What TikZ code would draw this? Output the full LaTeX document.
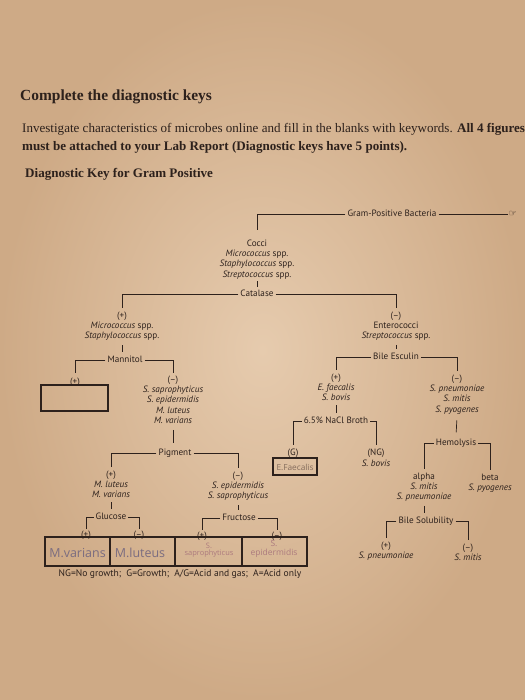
\documentclass[tikz,border=0pt]{standalone}
\usepackage{fontspec}
\setmainfont{Liberation Serif}
\newfontfamily\dsans{PT Sans}
\newfontfamily\handf{Open Sans}
\newfontfamily\symf{DejaVu Sans}
\definecolor{paper}{RGB}{206,170,134}
\definecolor{paperlight}{RGB}{230,203,174}
\definecolor{ink}{RGB}{45,33,28}
\definecolor{pencil}{RGB}{122,108,128}
\definecolor{pinkpen}{RGB}{172,122,126}
\definecolor{greypen}{RGB}{132,108,92}
\begin{document}
\begin{tikzpicture}[x=1bp,y=-1bp,
  lbl/.style={font=\dsans\fontsize{9.2}{10.4}\selectfont, text=ink, align=center, inner sep=2pt, anchor=north},
  test/.style={font=\dsans\fontsize{9.2}{10}\selectfont, text=ink, inner sep=2pt, text height=6.8pt, text depth=2.2pt},
  br/.style={draw=ink, line width=0.7bp},
  ansbox/.style={draw=ink, line width=1.4bp, inner sep=0pt},
  hw/.style={font=\handf\fontsize{12.5}{12.5}\selectfont, text=pencil},
  hws/.style={font=\handf\fontsize{7.5}{7.5}\selectfont, text=pinkpen, align=center}]
\useasboundingbox (0,0) rectangle (525,700);
\shade[inner color=paperlight, outer color=paper] (0,0) rectangle (525,700);

% header text
\node[anchor=base west, inner sep=0, font=\bfseries\fontsize{15.5}{15.5}\selectfont, text=ink] (title) at (20,101) {Complete the diagnostic keys};
\node[anchor=base west, inner sep=0, font=\fontsize{13.1}{13.1}\selectfont, text=ink] (intro) at (22,133) {Investigate characteristics of microbes online and fill in the blanks with keywords. \textbf{All 4 figures}};
\node[anchor=base west, inner sep=0, font=\bfseries\fontsize{13.1}{13.1}\selectfont, text=ink] (intro2) at (22,150) {must be attached to your Lab Report (Diagnostic keys have 5 points).};
\node[anchor=base west, inner sep=0, font=\bfseries\fontsize{13.1}{13.1}\selectfont, text=ink] (sub) at (25,177) {Diagnostic Key for Gram Positive};

% top
\node[test] (gram) at (392,214) {Gram-Positive Bacteria};
\node[font=\symf\fontsize{9}{9}\selectfont, text=ink, inner sep=1pt] (pointer) at (513,214) {☞};
\node[lbl] (cocci) at (257,237.5) {Cocci\\\textit{Micrococcus} spp.\\\textit{Staphylococcus} spp.\\\textit{Streptococcus} spp.};
\node[test] (catalase) at (257,294) {Catalase};
\node[lbl] (micro) at (122,309.5) {(+)\\\textit{Micrococcus} spp.\\\textit{Staphylococcus} spp.};
\node[lbl] (entero) at (396,309.5) {(–)\\Enterococci\\\textit{Streptococcus} spp.};

% left branch
\node[test] (mannitol) at (125,360) {Mannitol};
\node[lbl] (mplus) at (75,375.5) {(+)};
\node[ansbox, minimum width=67bp, minimum height=26bp] (mbox) at (74.5,398) {};
\node[lbl] (mminus) at (173,373.5) {(–)\\\textit{S. saprophyticus}\\\textit{S. epidermidis}\\\textit{M. luteus}\\\textit{M. varians}};
\node[test] (pigment) at (175,453) {Pigment};
\node[lbl] (pplus) at (111,468.5) {(+)\\\textit{M. luteus}\\\textit{M. varians}};
\node[lbl] (pminus) at (238,469.5) {(–)\\\textit{S. epidermidis}\\\textit{S. saprophyticus}};
\node[test] (glucose) at (111,517) {Glucose};
\node[test] (fructose) at (239,518) {Fructose};
\node[lbl, inner sep=1pt] (gplus) at (86,530) {(+)};
\node[lbl, inner sep=1pt] (gminus) at (139,530) {(–)};
\node[lbl, inner sep=1pt] (fplus) at (202,531) {(+)};
\node[lbl, inner sep=1pt] (fminus) at (277,531) {(–)};
\node[ansbox, minimum width=65bp, minimum height=29bp] (b1) at (77.5,551.5) {};
\node[ansbox, minimum width=65bp, minimum height=29bp] (b2) at (142.5,551.5) {};
\node[ansbox, minimum width=67bp, minimum height=29bp] (b3) at (208.5,551.5) {};
\node[ansbox, minimum width=65bp, minimum height=29bp] (b4) at (274.5,551.5) {};
\node[hw] (t1) at (77.5,553) {M.varians};
\node[hw] (t2) at (140,553) {M.luteus};
\node[hws] (t3) at (209,550) {S.\\saprophyticus};
\node[hws, font=\handf\fontsize{8.5}{8.5}\selectfont] (t4) at (274,549) {S.\\epidermidis};
\node[font=\dsans\fontsize{9.6}{9.6}\selectfont, text=ink, inner sep=0] (legend) at (180,574) {NG=No growth;\ \ G=Growth;\ \ A/G=Acid and gas;\ \ A=Acid only};

% right branch
\node[test] (bileesc) at (396,357) {Bile Esculin};
\node[lbl] (beplus) at (336,371.5) {(+)\\\textit{E. faecalis}\\\textit{S. bovis}};
\node[lbl] (beminus) at (457,372.5) {(–)\\\textit{S. pneumoniae}\\\textit{S. mitis}\\\textit{S. pyogenes}};
\node[test] (nacl) at (336,421) {6.5\% NaCl Broth};
\node[lbl] (gpos) at (293,447) {(G)};
\node[ansbox, minimum width=44bp, minimum height=17bp] (efbox) at (295,466.5) {};
\node[font=\handf\fontsize{8.3}{8.3}\selectfont, text=greypen] (eftext) at (295,467) {E.Faecalis};
\node[lbl] (ng) at (376,447) {(NG)\\\textit{S. bovis}};
\node[test] (hemolysis) at (456,443) {Hemolysis};
\node[lbl] (alpha) at (424,470.5) {alpha\\\textit{S. mitis}\\\textit{S. pneumoniae}};
\node[lbl] (beta) at (490,471.5) {beta\\\textit{S. pyogenes}};
\node[test] (bilesol) at (426,521) {Bile Solubility};
\node[lbl] (bsplus) at (386,539.5) {(+)\\\textit{S. pneumoniae}};
\node[lbl] (bsminus) at (468,541.5) {(–)\\\textit{S. mitis}};

% connectors
\draw[br, shorten >=8bp] (gram.west) -| (cocci.north);
\draw[br] (gram.east) -- (pointer.west);
\draw[br, shorten >=0.5bp] (cocci.south) -- (catalase.north);
\draw[br, shorten >=2bp] (catalase.west) -| (micro.north);
\draw[br, shorten >=2bp] (catalase.east) -| (entero.north);
\draw[br, shorten <=2bp, shorten >=1bp] (micro.south) -- (micro.south |- mannitol.north);
\draw[br, shorten >=3bp] (mannitol.west) -| (mplus.north);
\draw[br, shorten >=1bp] (mannitol.east) -| (mminus.north);
\draw[br, shorten <=4bp, shorten >=3bp] (mminus.south) -- (mminus.south |- pigment.north);
\draw[br, shorten >=2bp] (pigment.west) -| (pplus.north);
\draw[br, shorten >=2bp] (pigment.east) -| (pminus.north);
\draw[br, shorten <=2bp, shorten >=1bp] (pplus.south) -- (glucose.north);
\draw[br, shorten >=1bp] (glucose.west) -| (gplus.north);
\draw[br, shorten >=1bp] (glucose.east) -| (gminus.north);
\draw[br, shorten <=2bp, shorten >=1bp] (pminus.south) -- (pminus.south |- fructose.north);
\draw[br, shorten >=1bp] (fructose.west) -| (fplus.north);
\draw[br, shorten >=1bp] (fructose.east) -| (fminus.north);
\draw[br, shorten <=2bp, shorten >=1bp] (entero.south) -- (bileesc.north);
\draw[br, shorten >=2bp] (bileesc.west) -| (beplus.north);
\draw[br, shorten >=2bp] (bileesc.east) -| (beminus.north);
\draw[br, shorten <=2bp, shorten >=1bp] (beplus.south) -- (nacl.north);
\draw[br, shorten >=2bp] (nacl.west) -| (gpos.north);
\draw[br, shorten >=2bp] (nacl.east) -| (ng.north);
\draw[br, shorten <=4bp, shorten >=4bp] (beminus.south) -- (hemolysis.north);
\draw[br, shorten >=2bp] (hemolysis.west) -| (alpha.north);
\draw[br, shorten >=2bp] (hemolysis.east) -| (beta.north);
\draw[br, shorten <=2bp, shorten >=1bp] (alpha.south) -- (alpha.south |- bilesol.north);
\draw[br, shorten >=2bp] (bilesol.west) -| (bsplus.north);
\draw[br, shorten >=2bp] (bilesol.east) -| (bsminus.north);
\end{tikzpicture}
\end{document}
